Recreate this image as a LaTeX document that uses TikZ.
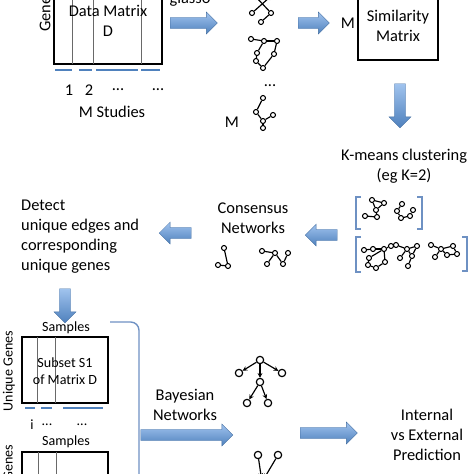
\documentclass[tikz,border=0pt]{standalone}
\usepackage{fontspec}
\setmainfont{Carlito}
\usepackage{tikz}
\usetikzlibrary{shapes.arrows, arrows.meta, positioning}
\definecolor{flowblue}{RGB}{79,129,189}
\definecolor{flowlight}{RGB}{160,195,238}
\definecolor{bracketblue}{RGB}{110,145,195}
\definecolor{colgray}{RGB}{105,105,105}

% small network glyph: prefix, nodes name/x/y, edges a/b
\newcommand{\netglyph}[3]{%
  \foreach \n/\x/\y in {#2} {\node[gnode] (#1\n) at (\x,\y) {};}
  \foreach \a/\b in {#3} {\draw[gedge] (#1\a) -- (#1\b);}
}

\begin{document}
\begin{tikzpicture}[
    x=0.03cm, y=-0.03cm,
    bigarrow/.style={
        single arrow,
        inner sep=0.16cm,
        single arrow head extend=0.16cm,
        top color=flowlight,
        bottom color=flowblue,
        draw=flowblue!85!black,
        line width=0.3pt
    },
    txt/.style={
        font=\fontsize{14}{17}\selectfont,
        align=center,
        inner sep=0pt
    },
    smalltxt/.style={
        font=\fontsize{12}{14}\selectfont,
        align=center,
        inner sep=0pt
    },
    matbox/.style={draw, line width=1.5pt, inner sep=0pt},
    colline/.style={draw=colgray, line width=0.8pt},
    tick/.style={flowblue, line width=2.5pt},
    gnode/.style={circle, draw, line width=0.9pt, fill=white, inner sep=0pt, minimum size=0.15cm},
    gedge/.style={line width=1pt},
    bnode/.style={circle, draw, line width=1pt, fill=white, inner sep=0pt, minimum size=0.22cm},
    bedge/.style={-{Stealth[length=4pt,width=4pt]}, line width=1pt},
    bracket/.style={draw=bracketblue, line width=1.2pt}
]

\useasboundingbox (0,0) rectangle (474,474);
\clip (0,0) rectangle (474,474);

% Data matrix
\node[matbox, minimum width=3.24cm, minimum height=2.22cm] (datamat) at (108,27) {};
\foreach \cx in {72, 93, 141} {
    \draw[colline] (\cx,-10) -- (\cx,64);
}
\node[txt] (datatxt) at (108,21) {Data Matrix\\D};
\node[txt, rotate=90] (genes) at (45,11) {Genes};
\foreach \sa/\sb in {55/72, 79/92, 96/138, 141/160} {
    \draw[tick] (\sa,70) -- (\sb,70);
}
\node[txt] (st1) at (69,90) {1};
\node[txt] (st2) at (89,90) {2};
\node[txt] (st3) at (118,90) {...};
\node[txt] (st4) at (158,90) {...};
\node[txt] (studies) at (112,112) {M Studies};

% glasso
\node[txt] (glasso) at (190,-1) {glasso};
\node[bigarrow, minimum height=1.41cm] (arr1) at (191,23) {};

% glasso networks
\netglyph{ga}{a/256/-3, f/270/-3, b/252/13, c/271/13, d/261/22}{a/c, f/b, c/d}
\netglyph{gb}{a/251/39, b/264/41, c/277/41, d/257/53, e/274/54, f/256/61, g/263/68}{a/b, b/c, b/d, d/f, f/g, g/e, e/c}
\node[txt] (gdots) at (270,86) {...};
\node[txt] (gm) at (232,122) {M};
\netglyph{gc}{a/263/98, b/256/112, c/263/121, d/273/115, e/263/128}{a/b, b/c, c/d, c/e}

\node[bigarrow, minimum height=0.93cm] (arr2) at (311,23) {};

% Similarity matrix
\node[txt] (simm) at (348,23) {M};
\node[draw, line width=0.9pt, minimum width=2.4cm, minimum height=2.1cm] (simmat) at (398,25) {};
\node[txt] (simtxt) at (398,26) {Similarity\\Matrix};
\node[bigarrow, minimum height=1.32cm, shape border rotate=270] (arr3) at (400,103) {};

% K-means
\node[txt] (kmeans) at (404,166) {K-means clustering\\(eg K=2)};
\draw[bracket] (361,197) -- (356,197) -- (356,229) -- (361,229);
\draw[bracket] (417,197) -- (422,197) -- (422,229) -- (417,229);
\draw[bracket] (361,237) -- (356,237) -- (356,272) -- (361,272);
\draw[bracket] (462,237) -- (467,237) -- (467,271) -- (462,271);
\netglyph{ka}{a/372/200, b/384/203, c/376/210, d/365/216, e/377/217}{a/b, b/c, a/c, c/e, d/e}
\netglyph{kb}{a/402/204, b/397/211, c/401/218, d/410/216, e/413/210}{a/b, b/c, c/d, d/e}
\netglyph{kc}{a/364/250, b/373/249, c/384/249, d/391/246, e/369/258, f/368/265, g/376/268, h/385/262}{a/b, b/c, c/d, c/e, e/f, f/g, g/h, h/c}
\netglyph{kd}{a/396/245, b/407/249, c/417/246, d/400/258, e/412/256, f/408/266}{a/b, b/c, b/d, b/e, e/c, e/f}
\netglyph{ke}{a/431/245, b/441/249, c/453/246, d/435/257, e/447/255, f/457/254}{a/b, b/c, b/d, b/e, e/f, f/c}

\node[bigarrow, minimum height=0.96cm, shape border rotate=180] (arr4) at (324,235) {};

% Consensus networks
\node[txt] (consensus) at (253,218) {Consensus\\Networks};
\netglyph{ca}{a/224/248, b/228/266, c/218/265}{a/b, b/c}
\netglyph{cb}{a/262/251, b/275/253, c/288/253, d/267/264, e/283/264}{a/b, b/d, b/e, e/c}

\node[bigarrow, minimum height=0.96cm, shape border rotate=180] (arr5) at (178,233) {};

% Detect
\node[txt, align=left, anchor=west] (detect) at (21,237) {Detect\\unique edges and\\corresponding\\unique genes};
\node[bigarrow, minimum height=1.02cm, shape border rotate=270] (arr6) at (65,303) {};

% Subsets
\node[smalltxt] (samp1) at (66,328) {Samples};
\node[matbox, minimum width=2.58cm, minimum height=1.98cm] (sub1) at (65,370) {};
\draw[colline] (37,337) -- (37,403);
\draw[colline] (55,337) -- (55,403);
\node[smalltxt] (sub1txt) at (65,371) {Subset S1\\of Matrix D};
\node[smalltxt, rotate=90] (ug1) at (9,371) {Unique Genes};
\foreach \sa/\sb in {25/35, 41/52, 63/103} {
    \draw[tick] (\sa,408) -- (\sb,408);
}
\node[smalltxt] (si1) at (32,425) {i};
\node[smalltxt] (si2) at (47,425) {...};
\node[smalltxt] (si3) at (82,425) {...};
\node[smalltxt] (samp2) at (66,442) {Samples};
\node[matbox, minimum width=2.58cm, minimum height=1.98cm] (sub2) at (65,485) {};
\draw[colline] (38,452) -- (38,520);
\draw[colline] (56,452) -- (56,520);
\node[smalltxt] (sub2txt) at (65,481) {Subset S2};
\node[smalltxt, rotate=90] (ug2) at (9,485) {Unique Genes};

% Bayesian networks
\coordinate (grpa) at (110,322);
\coordinate (grpb) at (139,480);
\draw[bracket, rounded corners=0.25cm] (grpa) -- (grpa -| grpb) -- (grpb);
\node[txt] (bayes) at (185,405) {Bayesian\\Networks};
\node[bigarrow, minimum height=2.76cm] (arr7) at (184,435) {};

\node[bnode] (bt) at (260,360) {};
\node[bnode] (bl) at (239,373) {};
\node[bnode] (br) at (282,373) {};
\node[bnode] (bm) at (260,382) {};
\node[bnode] (bbl) at (247,403) {};
\node[bnode] (bbr) at (268,403) {};
\draw[bedge] (bt) -- (bl);
\draw[bedge] (bt) -- (bm);
\draw[bedge] (bt) -- (br);
\draw[bedge] (bm) -- (bbl);
\draw[bedge] (bm) -- (bbr);
\node[bnode] (bx) at (258,455) {};
\node[bnode] (by) at (278,455) {};
\node[bnode] (bz) at (262,482) {};
\draw[bedge] (bx) -- (bz);
\draw[bedge] (by) -- (bz);

\node[bigarrow, minimum height=1.71cm] (arr8) at (326,433) {};

% Prediction
\node[txt] (predict) at (427,435) {Internal\\vs External\\Prediction};

\end{tikzpicture}
\end{document}
